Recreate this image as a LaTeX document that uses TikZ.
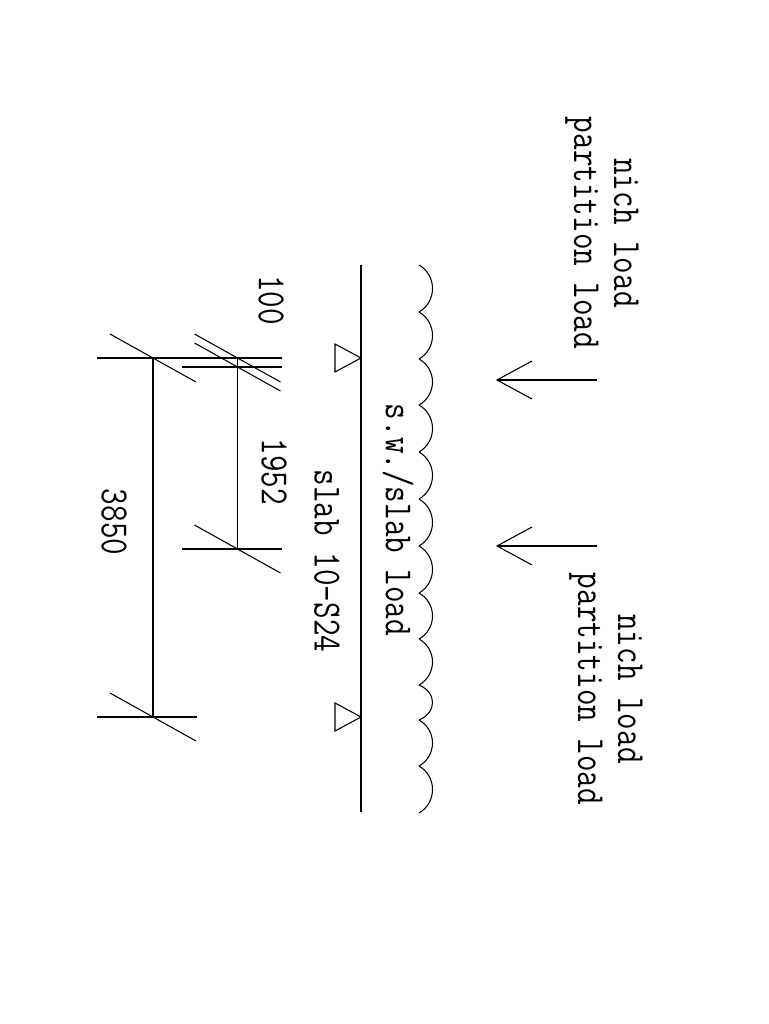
\documentclass[tikz,border=0pt]{standalone}
\usepackage{tikz}

\tikzset{
  loadtext/.style={rotate=-90, xscale=.805, align=center, inner sep=0pt,
    font=\ttfamily\fontsize{30}{30}\selectfont},
  thinline/.style={line width=.8pt}
}

\begin{document}
\begin{tikzpicture}[x=.75pt, y=-.75pt, thinline]
  \useasboundingbox (0,0) rectangle (768,1024);
  % labels
  \node (topload) [loadtext] at (602,233) {nich load\\partition load};
  \node (botload) [loadtext] at (606,689) {nich load\\partition load};
  \node (swload) [loadtext] at (398,520) {s.w./slab load};
  \node (slabname) [loadtext] at (327,561) {slab 10-S24};
  \node (dimhundred) [loadtext] at (271,300) {100};
  \node (dimshort) [loadtext] at (274,472) {1952};
  \node (dimlong) [loadtext] at (114,522) {3850};
  % beam and supports
  \coordinate (beamtop) at (361,265);
  \coordinate (beambot) at (361,812);
  \coordinate (supporta) at (361,358);
  \coordinate (supportb) at (361,717);
  \draw (beamtop) -- (beambot);
  \draw (supporta) -- (335,344) -- (335,372) -- cycle;
  \draw (supportb) -- (335,703) -- (335,731) -- cycle;
  % scallops
  \foreach \a/\b in {265/312,312/359,359/405,405/452,452/499,499/546,546/593,593/639,639/685,685/720,720/766,766/813}
    \draw (419,\a) .. controls (437,{\a+.22*(\b-\a)}) and (437,{\a+.78*(\b-\a)}) .. (419,\b);
  % load arrows
  \coordinate (taila) at (597,380);
  \coordinate (tipa) at (497,380);
  \coordinate (tailb) at (597,546);
  \coordinate (tipb) at (497,546);
  \draw (taila) -- (tipa);
  \draw (532,361) -- (tipa) -- (532,399);
  \draw (tailb) -- (tipb);
  \draw (532,527) -- (tipb) -- (532,565);
  % dimensions
  \coordinate (longa) at (153,358);
  \coordinate (longb) at (153,717);
  \coordinate (shorta) at (237.5,358);
  \coordinate (shortb) at (237.5,549);
  \coordinate (hundred) at (237.5,367);
  \draw (longa) -- (longb);
  \draw (shorta) -- (shortb);
  \draw (97,358) -- (282,358);
  \draw (182,367) -- (282,367);
  \draw (182,549) -- (282,549);
  \draw (97,717) -- (197,717);
  % ticks
  \foreach \p in {longa,longb,shorta,shortb,hundred}
    \draw ([shift={(-43,-24)}]\p) -- ([shift={(43,24)}]\p);
\end{tikzpicture}
\end{document}
